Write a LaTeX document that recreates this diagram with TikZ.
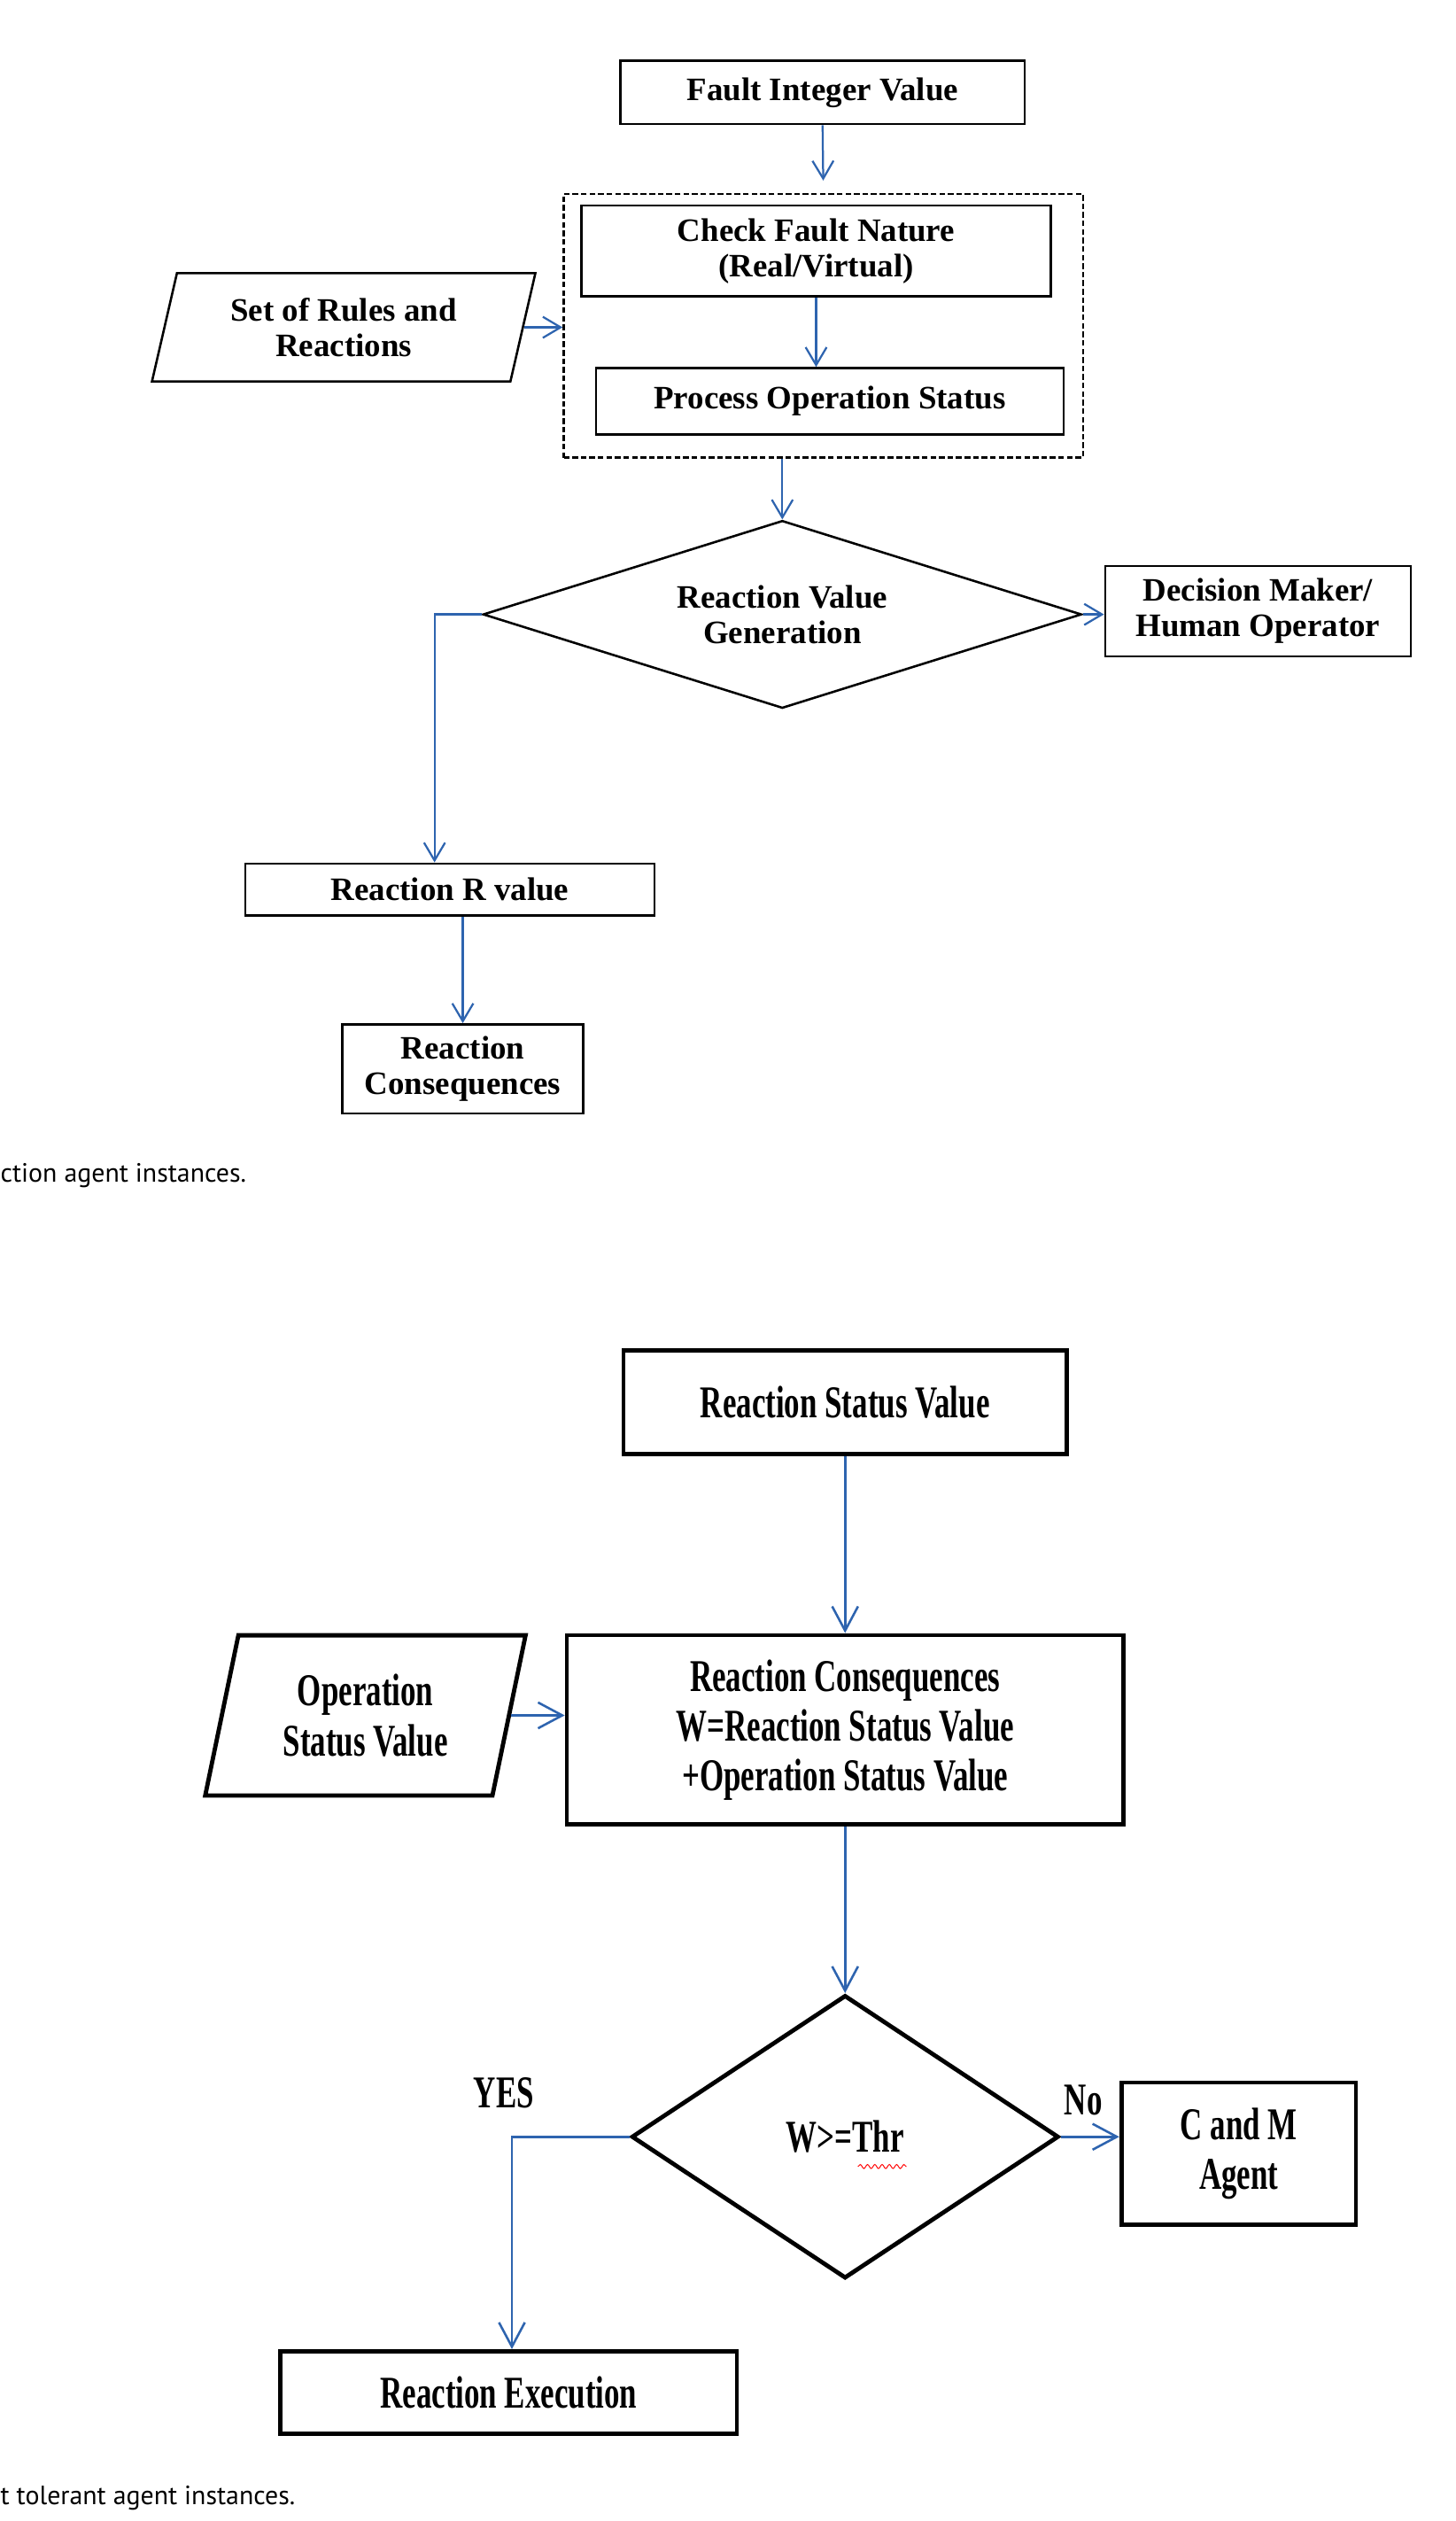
\documentclass[tikz,border=0pt]{standalone}
\usepackage{fontspec}
\setmainfont{Liberation Serif}
\newfontfamily\narrowserif[FakeStretch=0.68]{Liberation Serif}
\newfontfamily\captionfont{PT Sans}
\usetikzlibrary{arrows.meta, positioning, calc, shapes.geometric, decorations.pathmorphing}
\definecolor{FlowBlue}{RGB}{46, 100, 175}

\begin{document}
\begin{tikzpicture}[x=0.199mm, y=-0.1988mm,
    topbox/.style={draw, line width=0.8pt, inner sep=0pt, align=center,
        font=\fontsize{11.5}{12.5}\selectfont\bfseries},
    topdata/.style={topbox, trapezium, trapezium left angle=67,
        trapezium right angle=113, trapezium stretches body},
    botbox/.style={draw, line width=1.5pt, inner sep=0pt, align=center,
        font=\narrowserif\fontsize{16}{17.5}\selectfont\bfseries},
    botdata/.style={botbox, trapezium, trapezium left angle=68,
        trapezium right angle=112, trapezium stretches body},
    lbl/.style={inner sep=0pt, font=\narrowserif\fontsize{16}{17.5}\selectfont\bfseries},
    capt/.style={anchor=west, inner sep=0pt, font=\captionfont\fontsize{9.3}{11}\selectfont},
    link/.style={draw=FlowBlue, line width=0.7pt, -{Straight Barb[length=2.2mm, width=2.6mm]}},
    biglink/.style={draw=FlowBlue, line width=0.8pt, -{Straight Barb[length=3mm, width=3.2mm]}}]
    \useasboundingbox (0,0) rectangle (904.5,1567.4);

    % reaction agent
    \node[topbox, minimum width=50mm, minimum height=7.8mm] (fiv) at (511,57.5) {Fault Integer Value};
    \node[draw, line width=0.8pt, dash pattern=on 2pt off 1pt, minimum width=64.2mm, minimum height=32.6mm] (grp) at (511.5,202.5) {};
    \node[topbox, minimum width=58mm, minimum height=11.2mm] (chk) at (507,156) {Check Fault Nature\\(Real/Virtual)};
    \node[topbox, minimum width=57.8mm, minimum height=8.2mm] (pos) at (515.5,249.5) {Process Operation Status};
    \node[topdata, minimum width=47.4mm, minimum height=13.4mm] (rules) at (213.5,203.5) {Set of Rules and\\Reactions};
    \node[topbox, diamond, aspect=3.2, minimum width=74mm, minimum height=23.2mm] (rvg) at (486,382) {Reaction Value\\Generation};
    \node[topbox, minimum width=37.8mm, minimum height=11.2mm] (dmo) at (781.5,380) {Decision Maker/\\Human Operator};
    \node[topbox, minimum width=50.6mm, minimum height=6.4mm] (rrv) at (279.5,553) {Reaction R value};
    \node[topbox, minimum width=29.8mm, minimum height=11mm] (rcq) at (287.5,664.5) {Reaction\\Consequences};
    \node[capt] (cap1) at (0,731) {ction agent instances.};

    \draw[link, shorten >=1.5mm] (fiv.south) -- (grp.north);
    \draw[link] (chk.south) -- (chk.south |- pos.north);
    \draw[link] (rules.east) -- (rules.east -| grp.west);
    \draw[link] (rvg.north |- grp.south) -- (rvg.north);
    \draw[link] (rvg.east) -- (rvg.east -| dmo.west);
    \draw[link] (rvg.west) -| ([xshift=-1.9mm]rrv.north);
    \draw[link] (rcq.north |- rrv.south) -- (rcq.north);

    % fault tolerant agent
    \node[botbox, minimum width=54.8mm, minimum height=12.8mm] (rsv) at (525,872) {Reaction Status Value};
    \node[botdata, minimum width=39.6mm, minimum height=19.8mm] (osv) at (227,1066.5) {Operation\\Status Value};
    \node[botbox, minimum width=68.8mm, minimum height=23.4mm] (rcs) at (525,1075.5) {Reaction Consequences\\W=Reaction Status Value\\+Operation Status Value};
    \node[botbox, diamond, aspect=1.5, minimum width=52.8mm, minimum height=35mm] (thr) at (525,1328.5) {W>=Thr};
    \node[botbox, minimum width=29mm, minimum height=17.6mm] (cma) at (769.5,1339) {C and M\\Agent};
    \node[botbox, minimum width=56.4mm, minimum height=10.2mm] (rex) at (316,1487.5) {Reaction Execution};
    \node[lbl] (yes) at (313,1301) {YES};
    \node[lbl] (no) at (673,1306) {No};
    \node[capt] (cap2) at (0,1553) {t tolerant agent instances.};
    \draw[red, line width=0.3pt, decorate, decoration={snake, amplitude=0.25mm, segment length=0.9mm}]
        ($(thr.center)+(8,18.5)$) -- ($(thr.center)+(38,18.5)$);

    \draw[biglink] (rsv.south) -- (rcs.north);
    \draw[biglink] (osv.east) -- (osv.east -| rcs.west);
    \draw[biglink] (rcs.south) -- (thr.north);
    \draw[biglink] (thr.east) -- (thr.east -| cma.west);
    \draw[biglink] (thr.west) -| ([xshift=0.4mm]rex.north);
\end{tikzpicture}
\end{document}
